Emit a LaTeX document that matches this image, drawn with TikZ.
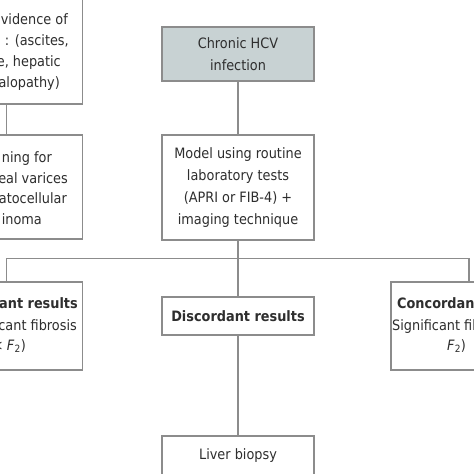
\documentclass[tikz,border=0pt]{standalone}
\usepackage{fontspec}
\setmainfont{DejaVu Sans}[FakeStretch=0.9]
\definecolor{linegrey}{HTML}{8C8C8C}
\definecolor{txtgrey}{HTML}{2E2E2E}
\definecolor{boxfill}{HTML}{C8D2D3}
\tikzset{
  box/.style={draw=linegrey, line width=1.3pt, fill=white, minimum width=152pt,
    inner sep=0pt, align=center, text=txtgrey, font=\fontsize{14.3}{22}\selectfont},
  link/.style={draw=linegrey, line width=1.4pt},
  frag/.style={inner sep=0pt, text=txtgrey, font=\fontsize{14.3}{22}\selectfont},
  fragl/.style={frag, anchor=base east},
  fragr/.style={frag, anchor=base west},
}
\begin{document}
\begin{tikzpicture}[x=1pt,y=-1pt]
\useasboundingbox (0,0) rectangle (474,474);
\clip (0,0) rectangle (474,474);
% boxes
\node[box, fill=boxfill, minimum height=54pt] (hcv) at (238,54) {Chronic HCV\\infection};
\node[box, minimum height=105pt] (model) at (238,187.5) {Model using routine\\laboratory tests\\(APRI or FIB-4) +\\imaging technique};
\node[box, minimum height=38pt] (disc) at (238,316) {\bfseries Discordant results};
\node[box, minimum height=40pt] (liver) at (238,456) {Liver biopsy};
\node[box, minimum height=105pt] (lt) at (6.5,51.5) {};
\node[box, minimum height=104pt] (ls) at (6.5,187) {};
\node[box, minimum height=88pt] (ll) at (6.5,326) {};
\node[box, minimum width=156pt, minimum height=88pt] (rr) at (469,326) {};
% connectors
\draw[link] (lt.south) -- (ls.north);
\draw[link] (hcv.south) -- (model.north);
\draw[link] (model.south) -- (disc.north);
\draw[link] (disc.south) -- (liver.north);
\draw[link] (ll.north) -- ++(0,-23) coordinate (bend) -| (rr.north);
% clipped texts, left column
\node[fragl] (lt1) at (68,24.5) {evidence of};
\node[fragl] (lt2) at (69,45.5) {: (ascites,};
\node[fragl] (lt3) at (61,66.5) {e, hepatic};
\node[fragl] (lt4) at (60,87.5) {alopathy)};
\node[fragl] (ls1) at (52,162) {ning for};
\node[fragl] (ls2) at (68,183) {eal varices};
\node[fragl] (ls3) at (67,203.5) {atocellular};
\node[fragl] (ls4) at (42,224) {inoma};
\node[fragl] (ll1) at (78,308) {\bfseries ant results};
\node[fragl] (ll2) at (77,330) {cant fibrosis};
\node[fragl] (ll3) at (26,350) {< \textit{F}\textsubscript{2})};
% clipped texts, right column
\node[fragr] (rr1) at (397,308) {\bfseries Concordant results};
\node[fragr] (rr2) at (392,330) {Significant fibrosis};
\node[fragr] (rr3) at (447,350) {\textit{F}\textsubscript{2})};
\end{tikzpicture}
\end{document}
